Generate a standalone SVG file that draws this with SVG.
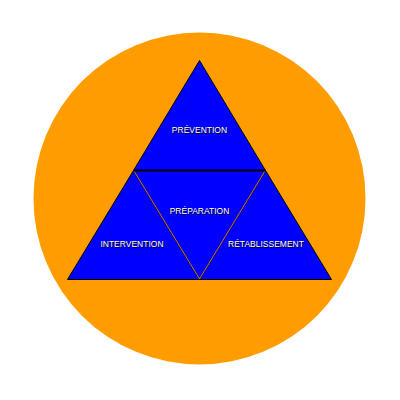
<svg xmlns="http://www.w3.org/2000/svg" width="400" height="400" viewBox="0 0 400 400">
<style>
.tri{fill:#0000FF;stroke:#000;stroke-width:1}
.sep{stroke:#FF9900;stroke-width:0.8;fill:none}
.lbl{font-family:"Liberation Sans",Arial,sans-serif;font-size:8.5px;text-anchor:middle;dominant-baseline:central}
.sh{fill:#000}
.fg{fill:#fff}
</style>
<rect width="400" height="400" fill="#fff"/>
<circle id="bg" cx="199.5" cy="198.5" r="166" fill="#FF9C00"/>
<g id="prevention">
<polygon class="tri" points="199.5,60.5 133.5,170.5 265.5,170.5"/>
<text class="lbl sh" x="200.5" y="130.5">PRÉVENTION</text>
<text class="lbl fg" x="199.5" y="129.5">PRÉVENTION</text>
</g>
<g id="intervention">
<polygon class="tri" points="133.5,170.5 67.5,279.5 199.5,279.5"/>
<text class="lbl sh" x="133" y="244.5">INTERVENTION</text>
<text class="lbl fg" x="132" y="243.5">INTERVENTION</text>
</g>
<g id="retablissement">
<polygon class="tri" points="265.5,170.5 199.5,279.5 331.5,279.5"/>
<text class="lbl sh" x="267" y="244.5">RÉTABLISSEMENT</text>
<text class="lbl fg" x="266" y="243.5">RÉTABLISSEMENT</text>
</g>
<g id="preparation">
<polygon class="tri" points="133.5,170.5 265.5,170.5 199.5,279.5"/>
<text class="lbl sh" x="200.5" y="211.5">PRÉPARATION</text>
<text class="lbl fg" x="199.5" y="210.5">PRÉPARATION</text>
</g>
<g id="connectors">
<line class="sep" x1="134" y1="171" x2="199.5" y2="279"/>
<line class="sep" x1="265" y1="171" x2="199.5" y2="279"/>
<line x1="133.5" y1="170.5" x2="265.5" y2="170.5" stroke="#000" stroke-width="2"/>
</g>
</svg>
